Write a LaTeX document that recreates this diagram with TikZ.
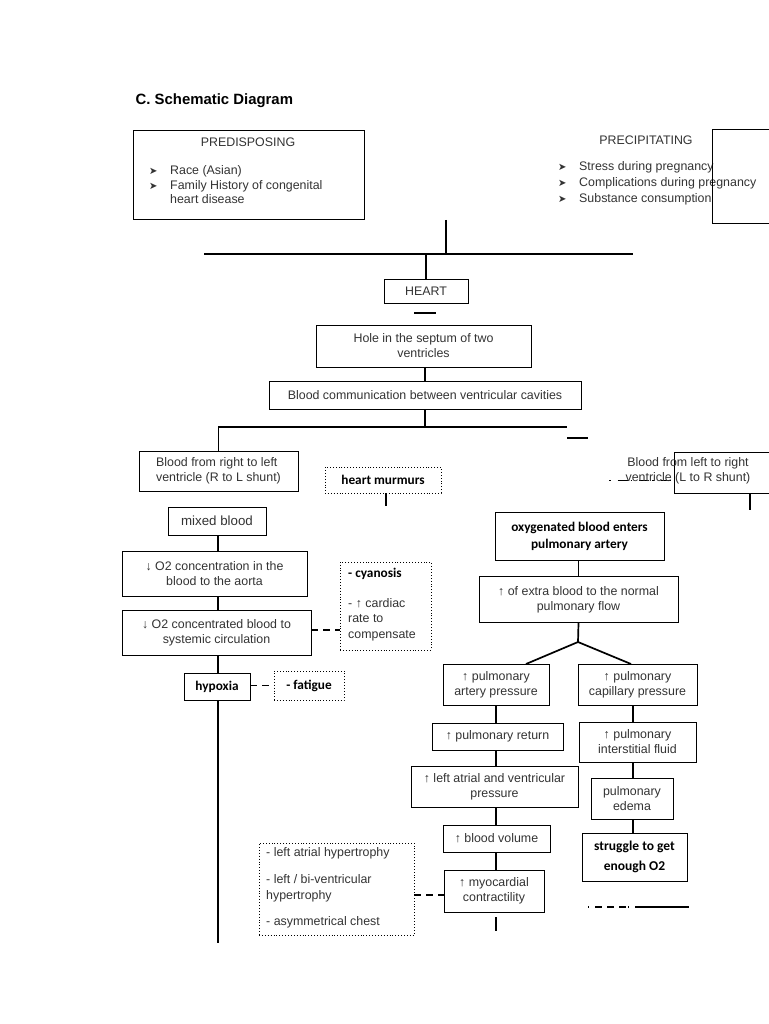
\documentclass[tikz,border=0pt]{standalone}
\usepackage{fontspec}
\setmainfont{Liberation Sans}
\newfontfamily\calfont{Carlito}
\newfontfamily\dvfont{DejaVu Sans}
\newcommand\fs{\fontsize{12.4}{15}\selectfont}
\newcommand\fsb{\calfont\bfseries\fontsize{13.3}{17}\selectfont}
\newcommand\bul{{\dvfont\fontsize{10}{12}\selectfont ➤}}
\tikzset{
  box/.style={draw, line width=0.8pt, inner sep=0pt, align=center, font=\fs, text=black!80},
  dbox/.style={draw, dotted, line width=0.9pt, inner sep=0pt, align=center, font=\fs, text=black!80},
  bbox/.style={box, font=\fsb, text=black},
  txt/.style={inner sep=0pt, font=\fs, text=black!80},
  btxt/.style={inner sep=0pt, font=\fsb, text=black},
  ln/.style={line width=1.7pt},
  dln/.style={line width=1.6pt, dash pattern=on 7pt off 5pt},
}
\begin{document}
\begin{tikzpicture}[x=1pt,y=-1pt]
\useasboundingbox (0,0) rectangle (768,1024);
\fill[white] (0,0) rectangle (768,1024);

\node[inner sep=0pt, anchor=mid west, font=\bfseries\fontsize{14.9}{17}\selectfont] (title) at (135.5,102) {C. Schematic Diagram};

% predisposing
\node[box, minimum width=231, minimum height=89] (pred) at (248.5,174.5) {};
\node[txt] (predh) at (248,142) {PREDISPOSING};
\node[txt, anchor=mid west] (pb1) at (149,172) {\bul};
\node[txt, anchor=mid west] (pb2) at (149,187) {\bul};
\node[txt, anchor=mid west] (pt1) at (170,172) {Race (Asian)};
\node[txt, anchor=mid west] (pt2) at (170,187) {Family History of congenital};
\node[txt, anchor=mid west] (pt3) at (170,201) {heart disease};

% precipitating
\node[txt] (prech) at (646,140) {PRECIPITATING};
\node[txt, anchor=mid west] (qb1) at (558,168) {\bul};
\node[txt, anchor=mid west] (qb2) at (558,184) {\bul};
\node[txt, anchor=mid west] (qb3) at (558,200) {\bul};
\node[txt, anchor=mid west] (qt1) at (579,168) {Stress during pregnancy};
\node[txt, anchor=mid west] (qt2) at (579,184) {Complications during pregnancy};
\node[txt, anchor=mid west] (qt3) at (579,200) {Substance consumption};
\node[draw, line width=0.8pt, minimum width=66, minimum height=94, inner sep=0pt] (precbox) at (745,176) {};

% top connectors
\coordinate (t1) at (446,220);
\coordinate (t2) at (446,254);
\coordinate (barL) at (204,254);
\coordinate (barR) at (633,254);
\draw[ln] (t1) -- (t2);
\draw[ln] (barL) -- (barR);

\node[box, minimum width=84, minimum height=24] (heart) at (426,291) {HEART};
\draw[ln] (heart.north) -- (heart.north |- barL);
\coordinate (hl1) at (414,313);
\coordinate (hl2) at (436,313);
\draw[line width=1.2pt] (hl1) -- (hl2);

\node[box, minimum width=215, minimum height=42] (hole) at (423.5,346) {Hole in the septum of two\\ventricles};
\node[box, minimum width=312, minimum height=28] (comm) at (425,395) {Blood communication between ventricular cavities};
\draw[ln] (comm.north) -- (comm.north |- hole.south);

\coordinate (j1) at (425,427);
\coordinate (j2) at (567,427);
\coordinate (k1) at (567,438);
\coordinate (k2) at (588,438);
\draw[ln] (comm.south) -- (j1);

% left branch
\node[box, minimum width=159, minimum height=40, align=left] (rl) at (218.5,471) {Blood from right to left\\ventricle (R to L shunt)};
\draw[ln] (rl.north) -- (rl.north |- j1) -- (j2);
\draw[ln] (k1) -- (k2);

\node[dbox, minimum width=116, minimum height=26, font=\fsb, text=black] (murm) at (383,480) {heart murmurs};
\coordinate (m1) at (386,506);
\draw[ln] (m1 |- murm.south) -- (m1);

\node[box, minimum width=98, minimum height=28, font=\fontsize{13.3}{16}\selectfont] (mixed) at (217,521) {mixed blood};
\coordinate (sp) at (218,943);
\node[box, minimum width=185, minimum height=45] (o2a) at (214.5,573.5) {↓ O2 concentration in the\\blood to the aorta};
\node[box, minimum width=189, minimum height=45] (o2b) at (216.5,632.5) {↓ O2 concentrated blood to\\systemic circulation};
\draw[ln] (sp |- mixed.south) -- (sp |- o2a.north);
\draw[ln] (sp |- o2a.south) -- (sp |- o2b.north);

\node[dbox, minimum width=91, minimum height=88] (cyan) at (385.5,606) {};
\node[btxt, anchor=mid west] (cy1) at (348,575) {- cyanosis};
\node[txt, anchor=mid west] (cy2) at (348,605) {- ↑ cardiac};
\node[txt, anchor=mid west] (cy3) at (348,620) {rate to};
\node[txt, anchor=mid west] (cy4) at (348,636) {compensate};
\coordinate (dc) at (0,630);
\draw[dln] (o2b.east |- dc) -- (cyan.west |- dc);

\node[bbox, minimum width=66, minimum height=27] (hyp) at (217,686.5) {hypoxia};
\node[dbox, minimum width=70, minimum height=29, font=\fsb, text=black] (fat) at (309,685.5) {- fatigue};
\draw[ln] (sp |- o2b.south) -- (sp |- hyp.north);
\draw[dln] (hyp.east |- fat.west) -- (fat.west);
\draw[ln] (sp |- hyp.south) -- (sp);

% right branch
\node[box, minimum width=100, minimum height=41] (lrbox) at (724,472.5) {};
\coordinate (ld) at (609,480);
\draw[line width=1pt, dash pattern=on 1.5pt off 7pt on 10pt off 3pt] (ld) -- (lrbox.west |- ld);
\node[txt, align=center, fill=none] (lrtext) at (688,471) {Blood from left to right\\ventricle (L to R shunt)};
\coordinate (l1) at (750,510);
\draw[ln] (l1 |- lrbox.south) -- (l1);

\node[bbox, minimum width=169, minimum height=48] (oxy) at (579.5,536) {oxygenated blood enters\\pulmonary artery};
\node[box, minimum width=199, minimum height=46] (extra) at (578.5,599.5) {↑ of extra blood to the normal\\pulmonary flow};
\draw[ln] (extra.north) -- (extra.north |- oxy.south);
\coordinate (br) at (578,642);
\coordinate (bl) at (526,664);
\coordinate (brr) at (631,664);
\draw[ln] (extra.south) -- (br);
\draw[ln] (bl) -- (br) -- (brr);

\node[box, minimum width=106, minimum height=41] (pap) at (496,684.5) {↑ pulmonary\\artery pressure};
\node[box, minimum width=119, minimum height=41] (pcp) at (637.5,684.5) {↑ pulmonary\\capillary pressure};

\coordinate (lc) at (496,931);
\node[box, minimum width=131, minimum height=27] (pret) at (497.5,736.5) {↑ pulmonary return};
\node[box, minimum width=167, minimum height=41] (lav) at (494.5,786.5) {↑ left atrial and ventricular\\pressure};
\node[box, minimum width=107, minimum height=27] (bvol) at (496.5,838.5) {↑ blood volume};
\node[box, minimum width=100, minimum height=42] (myo) at (494,891) {↑ myocardial\\contractility};
\draw[ln] (lc |- pap.south) -- (lc |- pret.north);
\draw[ln] (lc |- pret.south) -- (lc |- lav.north);
\draw[ln] (lc |- lav.south) -- (lc |- bvol.north);
\draw[ln] (lc |- bvol.south) -- (lc |- myo.north);
\coordinate (m2) at (496,917);
\draw[ln] (m2) -- (lc);

\node[dbox, minimum width=155, minimum height=92] (hyper) at (336.5,889) {};
\node[txt, anchor=mid west] (hy1) at (266,854) {- left atrial hypertrophy};
\node[txt, anchor=mid west] (hy2) at (266,881) {- left / bi-ventricular};
\node[txt, anchor=mid west] (hy3) at (266,897) {hypertrophy};
\node[txt, anchor=mid west] (hy4) at (266,923) {- asymmetrical chest};
\coordinate (dq) at (0,895);
\draw[line width=1.2pt, dash pattern=on 7pt off 5pt] (hyper.east |- dq) -- (myo.west |- dq);

\coordinate (rc) at (633,0);
\node[box, minimum width=117, minimum height=40] (pif) at (637.5,742) {↑ pulmonary\\interstitial fluid};
\node[box, minimum width=82, minimum height=41] (edema) at (632,798.5) {pulmonary\\edema};
\node[bbox, minimum width=105, minimum height=48, font=\calfont\bfseries\fontsize{13.5}{20}\selectfont] (strug) at (634.5,857) {struggle to get\\enough O2};
\draw[ln] (rc |- pcp.south) -- (rc |- pif.north);
\draw[ln] (rc |- pif.south) -- (rc |- edema.north);
\draw[ln] (rc |- edema.south) -- (rc |- strug.north);

\coordinate (e1) at (588,907);
\coordinate (e2) at (637,907);
\coordinate (e3) at (689,907);
\draw[line width=1.2pt, dash pattern=on 1pt off 6pt on 7pt off 5pt on 7pt off 5pt on 7pt off 2pt] (e1) -- (e2);
\draw[ln] (e2) -- (e3);
\end{tikzpicture}
\end{document}
